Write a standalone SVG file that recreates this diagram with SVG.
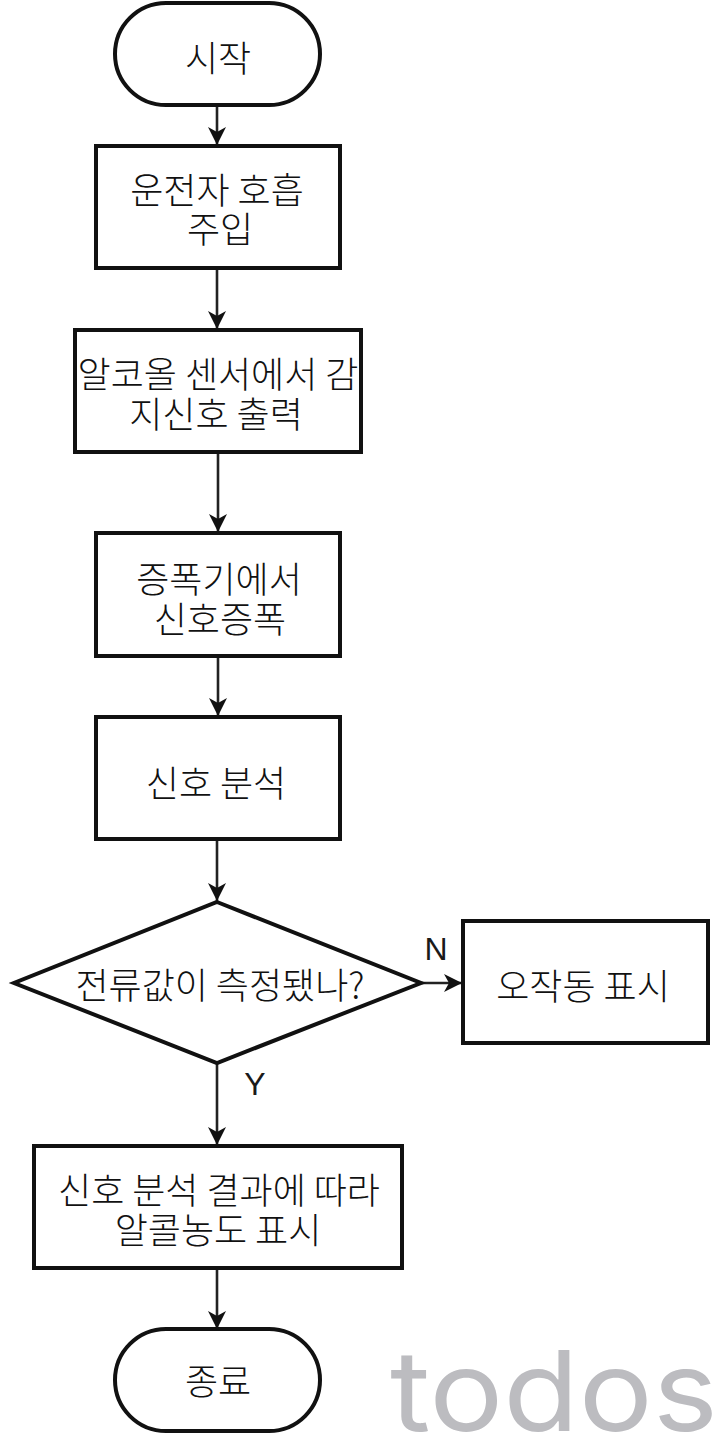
<svg xmlns="http://www.w3.org/2000/svg" width="726" height="1440" viewBox="0 0 726 1440">
<style>
.s{fill:#fff;stroke:#111;stroke-width:4}
.t{font-family:"Noto Sans CJK KR","Liberation Sans",sans-serif;font-size:36px;font-weight:300;fill:#111;text-anchor:middle}
.l{font-family:"Liberation Sans",sans-serif;font-size:32px;fill:#1a1a1a;text-anchor:middle}
.c{fill:none;stroke:#222;stroke-width:2.6}
.a{fill:#111;stroke:none}
</style>
<defs><marker id="h" markerUnits="userSpaceOnUse" markerWidth="20" markerHeight="20" refX="18" refY="10" orient="auto"><path class="a" d="M0 1L18 10L0 19L5 10Z"/></marker></defs>
<rect width="726" height="1440" fill="#fff"/>
<g id="connectors">
<path class="c" marker-end="url(#h)" d="M217 105V145"/>
<path class="c" marker-end="url(#h)" d="M217 268V329"/>
<path class="c" marker-end="url(#h)" d="M218 452V532"/>
<path class="c" marker-end="url(#h)" d="M218 656V716"/>
<path class="c" marker-end="url(#h)" d="M217 839V901"/>
<path class="c" marker-end="url(#h)" d="M422 983H462"/>
<path class="c" marker-end="url(#h)" d="M217 1063V1145"/>
<path class="c" marker-end="url(#h)" d="M217 1268V1329"/>
</g>
<g id="start"><rect class="s" x="115" y="3" width="205" height="102" rx="51"/><text class="t" x="218" y="72">시작</text></g>
<g id="inject"><rect class="s" x="96" y="146" width="244" height="122"/><text class="t"><tspan x="217" y="204">운전자 호흡</tspan><tspan x="220" y="243">주입</tspan></text></g>
<g id="sensor"><rect class="s" x="75" y="330" width="286" height="122"/><text class="t"><tspan x="218" y="388">알코올 센서에서 감</tspan><tspan x="216" y="428">지신호 출력</tspan></text></g>
<g id="amp"><rect class="s" x="96" y="533" width="244" height="123"/><text class="t"><tspan x="219" y="593">증폭기에서</tspan><tspan x="220" y="633">신호증폭</tspan></text></g>
<g id="analysis"><rect class="s" x="96" y="717" width="244" height="122"/><text class="t" x="216" y="797">신호 분석</text></g>
<g id="decision"><path class="s" d="M217 902L421 983L217 1063L14 983Z"/><text class="t" x="220" y="999">전류값이 측정됐나?</text></g>
<g id="error"><rect class="s" x="463" y="921" width="245" height="122"/><text class="t" x="583" y="1000">오작동 표시</text></g>
<g id="result"><rect class="s" x="34" y="1146" width="368" height="122"/><text class="t"><tspan x="219" y="1204">신호 분석 결과에 따라</tspan><tspan x="218" y="1244">알콜농도 표시</tspan></text></g>
<g id="end"><rect class="s" x="115" y="1329" width="205" height="102" rx="51"/><text class="t" x="218" y="1395">종료</text></g>
<text class="l" x="436" y="960">N</text>
<text class="l" x="255" y="1095">Y</text>
<text id="logo" x="390" y="1431" font-family="Inter,sans-serif" font-size="112" fill="#bcbcc0" textLength="328" lengthAdjust="spacingAndGlyphs">todos</text>
</svg>
